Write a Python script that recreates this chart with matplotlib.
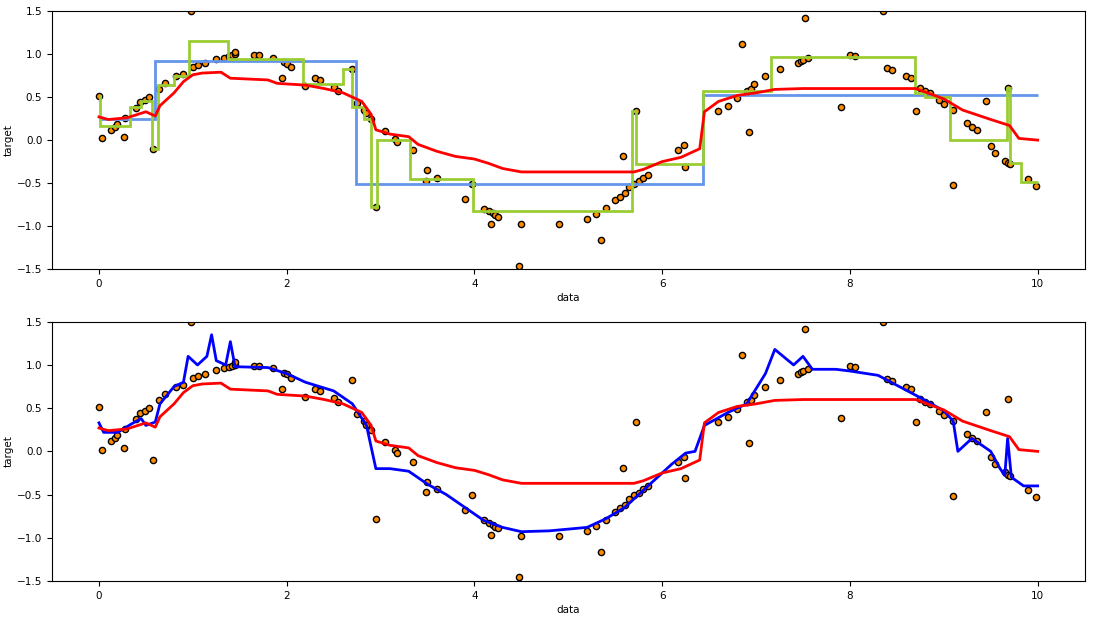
import matplotlib
matplotlib.use("Agg")
import matplotlib.pyplot as plt

plt.rcParams["font.size"] = 7.5

pts_x = [0.00,0.03,0.13,0.17,0.19,0.27,0.28,0.39,0.44,0.49,0.53,0.58,0.64,0.70,0.82,0.90,0.98,1.0,1.05,1.13,1.25,1.33,1.39,1.42,1.45,1.45,1.65,1.70,1.85,1.95,1.97,2.0,2.05,2.2,2.3,2.35,2.5,2.55,2.7,2.75,2.82,2.85,2.9,2.95,3.05,3.15,3.18,3.35,3.48,3.5,3.6,3.9,3.97,4.1,4.15,4.18,4.2,4.22,4.25,4.48,4.5,4.9,5.2,5.3,5.35,5.4,5.5,5.55,5.58,5.6,5.65,5.7,5.72,5.75,5.8,5.85,6.17,6.23,6.24,6.6,6.7,6.8,6.85,6.9,6.93,6.95,6.98,7.1,7.25,7.45,7.48,7.5,7.52,7.55,7.9,8.0,8.05,8.35,8.4,8.45,8.6,8.65,8.7,8.75,8.8,8.85,8.95,9.0,9.1,9.1,9.25,9.3,9.35,9.45,9.5,9.55,9.65,9.68,9.68,9.7,9.9,9.98]
pts_y = [0.51,0.02,0.12,0.15,0.19,0.04,0.26,0.37,0.44,0.47,0.50,-0.10,0.60,0.66,0.75,0.77,1.5,0.85,0.87,0.90,0.94,0.96,0.98,0.99,1.00,1.03,0.99,0.99,0.96,0.72,0.91,0.89,0.85,0.63,0.72,0.70,0.62,0.57,0.83,0.43,0.35,0.31,0.25,-0.78,0.11,0.01,-0.02,-0.12,-0.47,-0.35,-0.44,-0.68,-0.51,-0.80,-0.83,-0.97,-0.85,-0.87,-0.89,-1.46,-0.98,-0.98,-0.92,-0.86,-1.16,-0.79,-0.70,-0.66,-0.19,-0.62,-0.55,-0.51,0.34,-0.48,-0.44,-0.40,-0.12,-0.06,-0.31,0.34,0.40,0.49,1.12,0.57,0.10,0.60,0.65,0.74,0.83,0.90,0.92,0.93,1.42,0.95,0.39,0.99,0.98,1.5,0.84,0.82,0.75,0.72,0.34,0.61,0.57,0.55,0.47,0.42,0.35,-0.52,0.20,0.15,0.12,0.45,-0.07,-0.15,-0.24,-0.27,0.61,-0.28,-0.45,-0.53]

blue_edges = [0, 0.6, 2.74, 6.43, 10]
blue_vals = [0.24, 0.92, -0.51, 0.52]

green_edges = [0,0.01,0.33,0.45,0.57,0.63,0.8,0.96,1.37,2.17,2.6,2.7,2.82,2.9,2.96,3.31,3.99,5.68,5.72,6.43,7.16,8.69,8.8,9.07,9.67,9.7,9.82,10]
green_vals = [0.51,0.17,0.39,0.46,-0.1,0.64,0.75,1.15,0.94,0.65,0.83,0.38,0.25,-0.78,0.0,-0.45,-0.82,0.34,-0.28,0.57,0.97,0.55,0.50,0.0,0.61,-0.27,-0.49]

red_x = [0,0.1,0.3,0.5,0.6,0.65,0.8,0.9,1.0,1.1,1.3,1.4,1.8,1.9,2.2,2.4,2.6,2.8,2.9,2.95,3.1,3.3,3.4,3.6,3.8,4.0,4.15,4.3,4.5,5.7,5.8,6.0,6.2,6.4,6.45,6.6,6.8,7.0,7.2,7.5,8.7,8.8,9.0,9.2,9.5,9.7,9.8,10]
red_y = [0.27,0.24,0.26,0.33,0.28,0.4,0.55,0.68,0.76,0.78,0.79,0.72,0.7,0.66,0.64,0.6,0.55,0.45,0.3,0.12,0.07,0.04,-0.05,-0.13,-0.19,-0.22,-0.27,-0.33,-0.37,-0.37,-0.34,-0.25,-0.2,-0.1,0.33,0.45,0.52,0.55,0.59,0.6,0.6,0.56,0.48,0.35,0.24,0.17,0.02,0.0]

blue2_x = [0,0.05,0.2,0.35,0.45,0.5,0.6,0.65,0.8,0.9,0.95,1.05,1.1,1.15,1.2,1.25,1.35,1.4,1.45,1.8,2.0,2.2,2.5,2.7,2.85,2.95,3.1,3.3,3.5,3.7,3.9,4.1,4.3,4.5,4.8,5.2,5.4,5.6,5.7,5.9,6.1,6.25,6.35,6.45,6.7,6.9,7.1,7.2,7.4,7.5,7.6,7.85,8.0,8.3,8.7,9.0,9.1,9.15,9.3,9.5,9.6,9.65,9.68,9.72,9.85,10]
blue2_y = [0.33,0.22,0.22,0.32,0.38,0.3,0.34,0.55,0.75,0.8,1.1,1.0,1.05,1.1,1.35,1.05,1.0,1.27,0.98,0.97,0.9,0.8,0.7,0.55,0.3,-0.2,-0.2,-0.23,-0.38,-0.5,-0.65,-0.8,-0.88,-0.93,-0.92,-0.88,-0.78,-0.65,-0.55,-0.35,-0.15,-0.02,0.0,0.3,0.45,0.55,0.9,1.18,1.0,1.1,0.95,0.95,0.93,0.88,0.65,0.47,0.35,0.0,0.15,0.0,-0.2,-0.28,0.15,-0.3,-0.4,-0.4]

fig = plt.figure(figsize=(10.95, 6.2), dpi=100)
ax1 = fig.add_axes([0.0475, 0.566, 0.943, 0.416])
ax2 = fig.add_axes([0.0475, 0.063, 0.943, 0.418])

def scatter(ax):
    ax.scatter(pts_x, pts_y, s=20, c="darkorange", edgecolor="black", zorder=1)

scatter(ax1)
ax1.stairs(blue_vals, blue_edges, color="cornflowerblue", lw=2, baseline=None)
ax1.stairs(green_vals, green_edges, color="yellowgreen", lw=2, baseline=None)
ax1.plot(red_x, red_y, color="red", lw=2)

scatter(ax2)
ax2.plot(blue2_x, blue2_y, color="blue", lw=2)
ax2.plot(red_x, red_y, color="red", lw=2)

for ax in (ax1, ax2):
    ax.set_xlim(-0.5, 10.5)
    ax.set_ylim(-1.5, 1.5)
    ax.set_xlabel("data", labelpad=3)
    ax.set_ylabel("target", labelpad=2)
fig.savefig("out.png", dpi=100)
